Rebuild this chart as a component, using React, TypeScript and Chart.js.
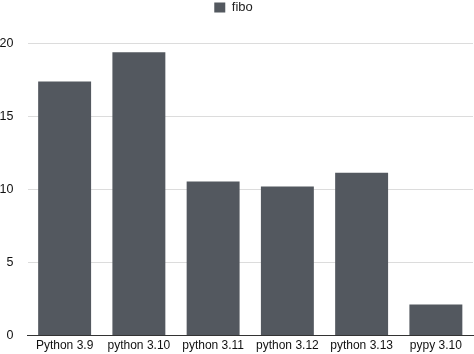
import React, { useEffect, useRef } from "react";
import { Chart, registerables } from "chart.js";

Chart.register(...registerables);

const categories = ["Python 3.9", "python 3.10", "python 3.11", "python 3.12", "python 3.13", "pypy 3.10"];
const fiboValues = [17.4, 19.4, 10.55, 10.2, 11.15, 2.13];
const yTicks = [0, 5, 10, 15, 20];
const seriesName = "fibo";

export default function App() {
  const ref = useRef<HTMLCanvasElement | null>(null);
  useEffect(() => {
    if (!ref.current) return;
    const legendSpacer = {
      id: "legendSpacer",
      beforeInit(chart: any) {
        const legend = chart.legend;
        const origFit = legend.fit;
        legend.fit = function () {
          origFit.call(legend);
          legend.height += 19.5;
        };
        const origDraw = legend.draw;
        legend.draw = function () {
          const ctx = chart.ctx;
          ctx.save();
          ctx.translate(-3, 0);
          origDraw.call(legend);
          ctx.restore();
        };
      },
    };
    const chart = new Chart(ref.current, {
      type: "bar",
      data: {
        labels: categories,
        datasets: [
          {
            label: seriesName,
            data: fiboValues,
            backgroundColor: "#53585f",
            borderWidth: 0,
            categoryPercentage: 1,
            barPercentage: 0.713,
          },
        ],
      },
      options: {
        animation: false,
        responsive: false,
        maintainAspectRatio: false,
        layout: { padding: { top: 0, right: 1, bottom: 0, left: 0 } },
        plugins: {
          legend: {
            display: true,
            position: "top",
            labels: {
              boxWidth: 11,
              boxHeight: 10,
              padding: 1,
              color: "#222",
              font: { family: "Liberation Sans, Arial, sans-serif", size: 13 },
            },
          },
          tooltip: { enabled: false },
        },
        scales: {
          x: {
            grid: { display: false, drawTicks: false },
            border: { display: true, color: "#333", width: 1 },
            ticks: {
              color: "#111",
              padding: 3,
              maxRotation: 0,
              font: { family: "Liberation Sans, Arial, sans-serif", size: 12 },
            },
            afterFit(scale: any) {
              scale.height = 18.5;
            },
          },
          y: {
            min: 0,
            max: 20,
            afterBuildTicks(scale: any) {
              scale.ticks = yTicks.map((v) => ({ value: v }));
            },
            grid: { color: "#dcdcdc", lineWidth: 1, drawTicks: false },
            border: { display: false },
            ticks: {
              color: "#111",
              padding: 14,
              font: { family: "Liberation Sans, Arial, sans-serif", size: 12.5 },
            },
            afterFit(scale: any) {
              scale.width = 27.5;
              scale.paddingBottom = 0;
              scale.paddingTop = 0;
            },
          },
        },
      },
      plugins: [legendSpacer],
    });
    return () => chart.destroy();
  }, []);
  return (
    <div style={{ position: "fixed", left: 0, top: 0, width: 474, height: 354, background: "#fff" }}>
      <canvas ref={ref} width={474} height={354} style={{ width: 474, height: 354 }} />
    </div>
  );
}
